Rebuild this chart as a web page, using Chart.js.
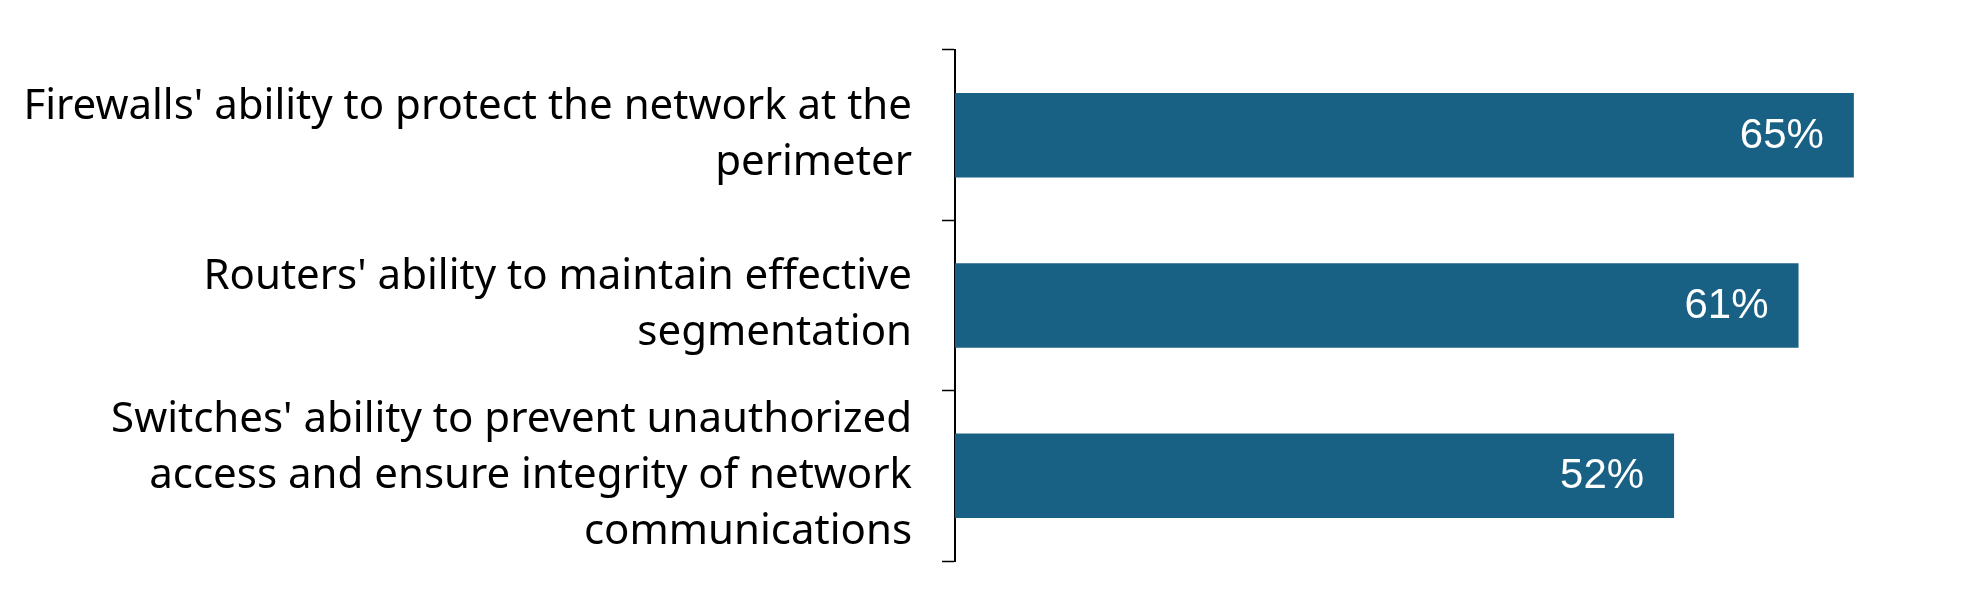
<!DOCTYPE html>
<html>
<head>
<meta charset="utf-8">
<script src="https://cdn.jsdelivr.net/npm/chart.js@4"></script>
<style>
  html, body { margin: 0; padding: 0; background: #fff; }
  #wrap { width: 1973px; height: 612px; }
</style>
</head>
<body>
<div id="wrap"><canvas id="grafica"></canvas></div>
<script>
// datos de la grafica
const categorias = [
  ["Firewalls' ability to protect the network at the", "perimeter"],
  ["Routers' ability to maintain effective", "segmentation"],
  ["Switches' ability to prevent unauthorized", "access and ensure integrity of network", "communications"]
];
const porcentajes = [65, 61, 52];
const ejeMax = 70;

// etiquetas blancas dentro de la barra, alineadas a la derecha
const etiquetasDentro = {
  id: 'etiquetasDentro',
  afterDatasetsDraw(chart) {
    const ctx = chart.ctx;
    const meta = chart.getDatasetMeta(0);
    ctx.save();
    ctx.fillStyle = '#ffffff';
    ctx.font = '42px "Liberation Sans", Arial, sans-serif';
    ctx.textAlign = 'right';
    ctx.textBaseline = 'middle';
    meta.data.forEach((barra, i) => {
      ctx.fillText(porcentajes[i] + '%', barra.x - 30, barra.y + 1);
    });
    ctx.restore();
  }
};

new Chart(document.getElementById('grafica'), {
  type: 'bar',
  data: {
    labels: categorias,
    datasets: [{
      data: porcentajes,
      backgroundColor: '#186184',
      borderWidth: 0,
      categoryPercentage: 1,
      barPercentage: 0.496
    }]
  },
  options: {
    indexAxis: 'y',
    responsive: true,
    maintainAspectRatio: false,
    animation: false,
    layout: { padding: { top: 50, bottom: 51, left: 0, right: 50 } },
    plugins: {
      legend: { display: false },
      tooltip: { enabled: false }
    },
    scales: {
      x: { display: false, min: 0, max: ejeMax },
      y: {
        afterFit(escala) {
          // ancho fijo del eje y sin relleno extra arriba/abajo
          escala.width = 955;
          escala.paddingTop = 0;
          escala.paddingBottom = 0;
        },
        border: { display: true, color: '#000', width: 2 },
        grid: {
          offset: true,
          drawOnChartArea: false,
          drawTicks: true,
          tickLength: 13,
          tickColor: '#000',
          tickWidth: 1.5
        },
        ticks: {
          color: '#000',
          padding: 30,
          autoSkip: false,
          font: { family: '"Noto Sans", sans-serif', size: 42, lineHeight: 1.333 }
        }
      }
    }
  },
  plugins: [etiquetasDentro]
});
</script>
</body>
</html>
